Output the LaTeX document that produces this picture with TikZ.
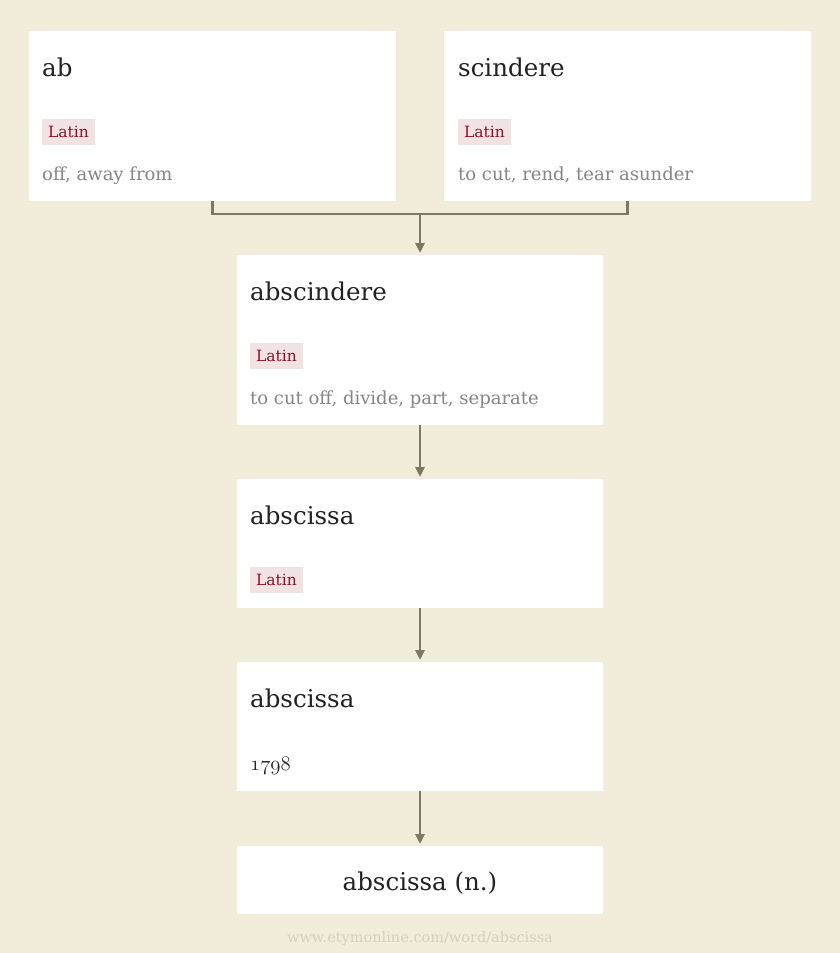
\documentclass[tikz,border=0pt]{standalone}
\usepackage{fontspec}
\setmainfont{DejaVu Serif}
\usetikzlibrary{arrows.meta}
\definecolor{bg}{HTML}{F2ECDB}
\definecolor{titlec}{HTML}{222222}
\definecolor{glossc}{HTML}{858585}
\definecolor{tagfill}{HTML}{F1E2E4}
\definecolor{tagtext}{HTML}{8A1030}
\definecolor{linec}{HTML}{7D7866}
\definecolor{footc}{HTML}{D6CFBD}
\tikzset{
  box/.style={fill=white, draw=none, inner sep=0pt, outer sep=0pt, anchor=north west},
  title/.style={anchor=base west, inner sep=0pt, text=titlec, font=\fontsize{24.5}{28}\selectfont},
  gloss/.style={anchor=base west, inner sep=0pt, text=glossc, font=\fontsize{18}{22}\selectfont},
  tag/.style={anchor=north west, fill=tagfill, text=tagtext, inner xsep=6pt, inner ysep=0pt,
    minimum height=26pt, font=\fontsize{15.5}{18}\selectfont},
  conn/.style={draw=linec, line width=2.5pt},
  arr/.style={conn, -{Triangle[length=10pt,width=9pt]}, shorten >=2pt},
}
\begin{document}
\begin{tikzpicture}[x=1pt,y=-1pt]
\useasboundingbox[fill=bg] (0,0) rectangle (840,953);
% boxes
\node[box, minimum width=367pt, minimum height=170pt] (ab) at (29,31) {};
\node[box, minimum width=367pt, minimum height=170pt] (sc) at (444,31) {};
\node[box, minimum width=366pt, minimum height=170pt] (absc) at (237,255) {};
\node[box, minimum width=366pt, minimum height=129pt] (la) at (237,479) {};
\node[box, minimum width=366pt, minimum height=129pt] (en) at (237,662) {};
\node[box, minimum width=366pt, minimum height=68pt] (fin) at (237,846) {};
% ab
\node[title] (abt) at (42,76) {ab};
\node[tag] (abg) at (42,119) {Latin};
\node[gloss] (abm) at (42,180) {off, away from};
% scindere
\node[title] (sct) at (458,76) {scindere};
\node[tag] (scg) at (458,119) {Latin};
\node[gloss] (scm) at (458,180) {to cut, rend, tear asunder};
% abscindere
\node[title] (absct) at (250,300) {abscindere};
\node[tag] (abscg) at (250,343) {Latin};
\node[gloss] (abscm) at (250,404) {to cut off, divide, part, separate};
% abscissa Latin
\node[title] (lat) at (250,524) {abscissa};
\node[tag] (lag) at (250,567) {Latin};
% abscissa 1798
\node[title] (ent) at (250,707) {abscissa};
\node[anchor=base west, inner sep=0pt, text=titlec] (end) at (250,770) {\usefont{OML}{cmm}{m}{it}\fontsize{20}{22}\selectfont 1798};
% final
\node[anchor=base, inner sep=0pt, text=titlec, font=\fontsize{24.5}{28}\selectfont] (fint) at (420,890) {abscissa (n.)};
% footer
\node[anchor=base, inner sep=0pt, text=footc, font=\fontsize{14.5}{17}\selectfont] (foot) at (420,942) {www.etymonline.com/word/abscissa};
% connectors
\coordinate (j) at (420,214);
\draw[conn] (ab.south) |- (j);
\draw[conn] (sc.south) |- (j);
\draw[arr] (j) -- (absc.north);
\draw[arr] (absc.south) -- (la.north);
\draw[arr] (la.south) -- (en.north);
\draw[arr] (en.south) -- (fin.north);
\end{tikzpicture}
\end{document}
